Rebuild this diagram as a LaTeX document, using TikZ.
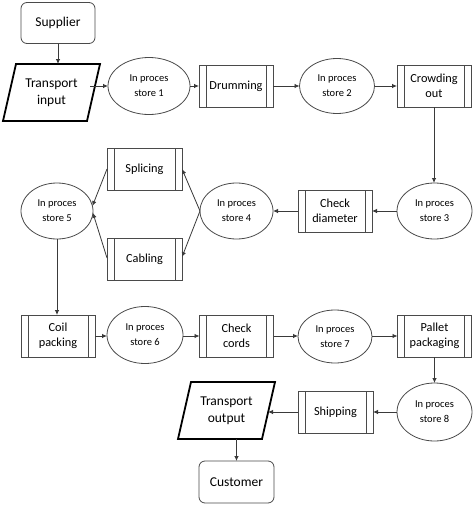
\documentclass[tikz,border=0pt]{standalone}
\usepackage{fontspec}
\setmainfont{Carlito}
\usetikzlibrary{shapes.geometric,arrows.meta}
\definecolor{edge}{HTML}{4A4A4A}
\definecolor{conn}{HTML}{3A3A3A}
\tikzset{
  every node/.style={inner sep=0pt, outer sep=0pt, text=black},
  store/.style={ellipse, draw=edge, line width=0.8pt, minimum width=75pt, minimum height=56pt, align=center, font=\fontsize{10.5}{15}\selectfont},
  proc/.style={rectangle, draw=edge, line width=0.8pt, minimum width=74pt, minimum height=42pt, align=center, font=\fontsize{12.3}{14.5}\selectfont,
    path picture={\draw[edge, line width=0.8pt] ([xshift=7pt]path picture bounding box.north west) -- ([xshift=7pt]path picture bounding box.south west)
      ([xshift=-7pt]path picture bounding box.north east) -- ([xshift=-7pt]path picture bounding box.south east);}},
  term/.style={rectangle, rounded corners=6pt, draw=edge, line width=0.8pt, minimum width=74pt, minimum height=41pt, align=center, font=\fontsize{13.5}{17}\selectfont},
  iotext/.style={align=center, font=\fontsize{13.5}{17}\selectfont, minimum height=57pt},
  io/.style={draw=black, line width=1.8pt, line join=miter},
  arr/.style={draw=conn, line width=0.8pt, -{Latex[length=5pt,width=4.5pt]}}
}
\begin{document}
\begin{tikzpicture}[x=1pt,y=-1pt]
\useasboundingbox[fill=white] (0,0) rectangle (474,506);
% row 0
\node[term] (sup) at (58,23) {Supplier};
% row 1
\node[iotext, minimum width=77pt] (tin) at (51.5,92.5) {Transport\\input};
\draw[io] (16,64) -- (100,64) -- (87,121) -- (3,121) -- cycle;
\node[store, minimum width=82pt, minimum height=57pt] (s1) at (149,86) {In proces\\store 1};
\node[proc] (drum) at (236,86) {Drumming};
\node[store, minimum height=55pt] (s2) at (337,86) {In proces\\store 2};
\node[proc] (crowd) at (434,86) {Crowding\\out};
% row 2
\node[store] (s3) at (434.5,211) {In proces\\store 3};
\node[proc] (chk) at (335,211) {Check\\diameter};
\node[store, minimum width=73pt] (s4) at (236.5,211) {In proces\\store 4};
\node[proc, minimum width=75pt] (spl) at (144.5,169) {Splicing};
\node[proc, minimum width=75pt] (cab) at (144.5,259) {Cabling};
\node[store, minimum width=72pt] (s5) at (57,211) {In proces\\store 5};
% row 3
\node[proc] (coil) at (58,336) {Coil\\packing};
\node[store, minimum width=76pt, minimum height=57pt] (s6) at (145,335) {In proces\\store 6};
\node[proc] (cords) at (236.5,336) {Check\\cords};
\node[store, minimum width=74pt, minimum height=53pt] (s7) at (335,336.5) {In proces\\store 7};
\node[proc] (pallet) at (434.5,336) {Pallet\\packaging};
% row 4
\node[store, minimum height=58pt] (s8) at (434.5,412) {In proces\\store 8};
\node[proc, minimum width=75pt] (ship) at (335.5,412) {Shipping};
\node[iotext, minimum width=83pt] (tout) at (226.5,410.5) {Transport\\output};
\draw[io] (191,382) -- (275,382) -- (262,439) -- (178,439) -- cycle;
\node[term, minimum width=75pt, minimum height=42pt] (cust) at (236.5,482) {Customer};
% connectors
\draw[arr] (sup.south) -- (sup.south |- tin.north);
\draw[arr] (tin.east |- s1.west) -- (s1.west);
\draw[arr] (s1.east) -- (drum.west);
\draw[arr] (drum.east) -- (s2.west);
\draw[arr] (s2.east) -- (crowd.west);
\draw[arr] (crowd.south) -- (crowd.south |- s3.north);
\draw[arr] (s3.west) -- (chk.east);
\draw[arr] (chk.west) -- (s4.east);
\draw[arr] (s4.west) -- (spl.east);
\draw[arr] (s4.west) -- ([yshift=2pt]cab.east);
\draw[arr] (spl.west) -- (s5.8);
\draw[arr] ([yshift=1pt]cab.west) -- (s5.-3);
\draw[arr] (s5.south) -- (s5.south |- coil.north);
\draw[arr] (coil.east) -- (coil.east -| s6.west);
\draw[arr] (s6.east |- cords.west) -- (cords.west);
\draw[arr] (cords.east) -- (cords.east -| s7.west);
\draw[arr] (s7.east |- pallet.west) -- (pallet.west);
\draw[arr] (pallet.south) -- (pallet.south |- s8.north);
\draw[arr] (s8.west) -- (ship.east);
\draw[arr] (ship.west) -- (tout.east |- ship.west);
\draw[arr] (tout.south -| cust.north) -- (cust.north);
\end{tikzpicture}
\end{document}
